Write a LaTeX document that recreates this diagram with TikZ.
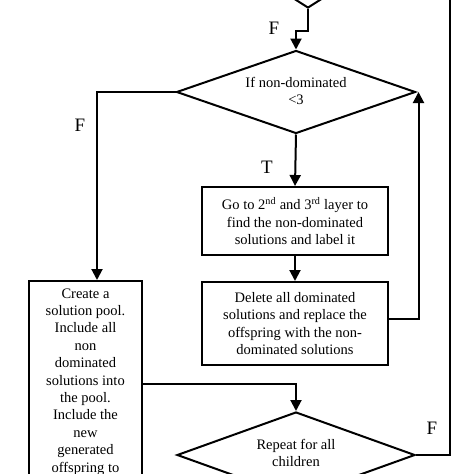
\documentclass[tikz,border=0pt]{standalone}
\usepackage{fontspec}
\setmainfont{Liberation Serif}
\usetikzlibrary{arrows.meta,shapes.geometric,calc}

\tikzset{
  flowline/.style={draw=black,line width=2pt,line join=miter},
  flowarrow/.style={flowline,-{Triangle[length=11pt,width=11pt]}},
  decision/.style={diamond,flowline,inner sep=0pt,align=center,font=\flowfont},
  process/.style={rectangle,flowline,inner sep=0pt,align=center,font=\flowfont},
  branchlabel/.style={font=\fontsize{19}{21}\selectfont,inner sep=0pt}
}
\newcommand{\flowfont}{\fontsize{14.5}{17.4}\selectfont}

\begin{document}
\begin{tikzpicture}[x=1pt, y=1pt, yscale=-1]
\useasboundingbox (0,0) rectangle (474,474);
\clip (0,0) rectangle (474,474);

% decisions
\node[decision, minimum width=56pt, minimum height=36pt] (check) at (308,-10) {};
\node[decision, minimum width=239pt, minimum height=83pt] (nondom) at (296,92) {};
\node[font=\flowfont,align=center] (nondomtxt) at (296,91) {If non-dominated\\\textless3};
\node[decision, minimum width=238pt, minimum height=86pt] (repeat) at (296,455) {};
\node[font=\flowfont,align=center] (repeattxt) at (296,453) {Repeat for all\\children};

% processes
\node[process, minimum width=186pt, minimum height=68pt] (layer) at (295,221)
  {Go to 2\textsuperscript{nd} and 3\textsuperscript{rd} layer to\\find the non-dominated\\solutions and label it};
\node[process, minimum width=186pt, minimum height=83pt] (delete) at (295,323.5)
  {Delete all dominated\\solutions and replace the\\offspring with the non-\\dominated solutions};
\node[process, anchor=north, minimum width=113pt, minimum height=240pt] (pool) at (85.5,280) {};
\node[font=\flowfont,align=center,anchor=north] (pooltxt) at (85.5,285)
  {Create a\\solution pool.\\Include all\\non\\dominated\\solutions into\\the pool.\\Include the\\new\\generated\\offspring to};

% connectors
\coordinate (looptop) at (450,-5);
\coordinate (poolin) at ($(pool.north)+(11.5,0)$);
\coordinate (poolout) at ($(pool.north east)+(0,104)$);
\draw[flowarrow] (check.south) -- ++(0,22) -| (nondom.north);
\draw[flowarrow] (nondom.west) -| (poolin);
\draw[flowarrow] (nondom.south) -- (layer.north);
\draw[flowarrow] (layer.south) -- (delete.north);
\draw[flowarrow] ([yshift=-5pt]delete.east) -| ([xshift=2pt]nondom.east);
\draw[flowarrow] (poolout) -| (repeat.north);
\draw[flowline] (repeat.east) -| (looptop);

% labels
\node[branchlabel] at (274,28) {F};
\node[branchlabel] at (80,125) {F};
\node[branchlabel] at (267,167) {T};
\node[branchlabel] at (432,428) {F};

\end{tikzpicture}
\end{document}
